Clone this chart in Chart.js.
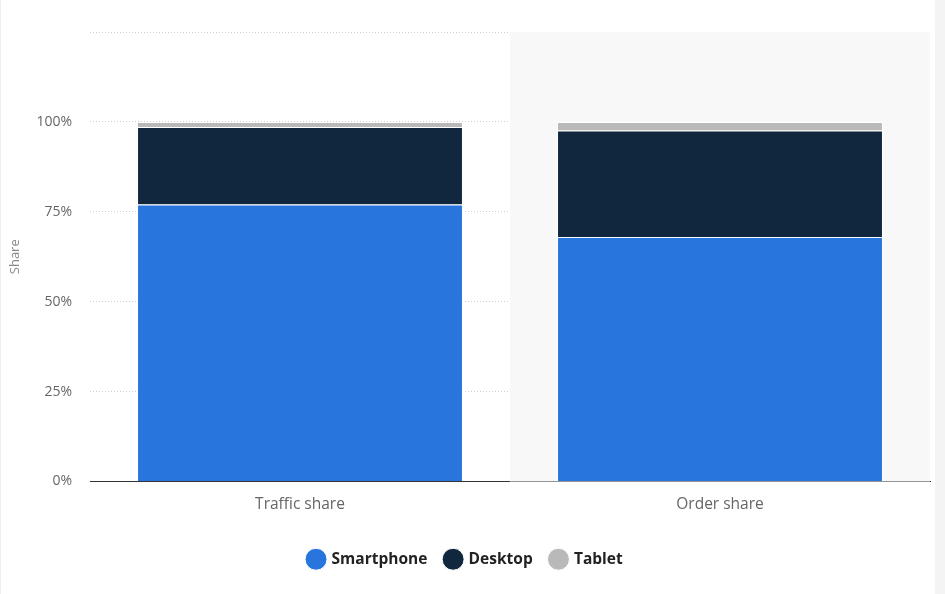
<!DOCTYPE html>
<html>
<head>
<meta charset="utf-8">
<script src="https://cdn.jsdelivr.net/npm/chart.js@4/dist/chart.umd.min.js"></script>
<style>
  html, body { margin: 0; padding: 0; background: #fff; }
  #wrap { position: relative; width: 945px; height: 594px; box-sizing: border-box; border-left: 1px solid #eee; border-right: 10px solid #f4f4f4; }
</style>
</head>
<body>
<div id="wrap"><canvas id="chart"></canvas></div>
<script>
  "use strict";

  const CATEGORIES = ["Traffic share", "Order share"];
  const SMARTPHONE = [77, 68];
  const DESKTOP = [21.6, 29.6];
  const TABLET = [1.4, 2.4];
  const Y_TICKS = [0, 25, 50, 75, 100, 125];

  const FONT = "'Open Sans', 'DejaVu Sans', sans-serif";
  const TICK_COLOR = "#666";
  const GRID_COLOR = "#cfcfcf";

  // light column highlight behind the second category
  const highlight = {
    id: "highlight",
    beforeDatasetsDraw: function (chart) {
      const x = chart.scales.x;
      const area = chart.chartArea;
      const step = x.width / CATEGORIES.length;
      const cx = x.getPixelForValue(1);
      const ctx = chart.ctx;
      ctx.save();
      ctx.fillStyle = "#f8f8f8";
      ctx.fillRect(cx - step / 2, area.top, step, area.bottom - area.top);
      ctx.restore();
    }
  };

  new Chart(document.getElementById("chart"), {
    type: "bar",
    data: {
      labels: CATEGORIES,
      datasets: [
        { label: "Smartphone", data: SMARTPHONE, backgroundColor: "#2876dd" },
        { label: "Desktop", data: DESKTOP, backgroundColor: "#11273d" },
        { label: "Tablet", data: TABLET, backgroundColor: "#b9b9b9" }
      ].map(function (d) {
        d.borderColor = "#ffffff";
        d.borderWidth = 1;
        d.categoryPercentage = 1;
        d.barPercentage = 0.776;
        return d;
      })
    },
    plugins: [highlight],
    options: {
      responsive: true,
      maintainAspectRatio: false,
      animation: false,
      layout: { padding: { top: 32, right: 5, bottom: 17, left: 0 } },
      plugins: {
        tooltip: { enabled: false },
        legend: {
          position: "bottom",
          labels: {
            usePointStyle: true,
            pointStyle: "circle",
            boxWidth: 16,
            boxHeight: 16,
            padding: 18,
            color: "#222",
            font: { family: FONT, size: 15.5, weight: "bold" }
          }
        }
      },
      scales: {
        x: {
          stacked: true,
          grid: { display: false },
          border: { color: "#333", width: 1 },
          ticks: { color: TICK_COLOR, padding: 6, font: { family: FONT, size: 15.5 } },
          afterFit: function (s) { s.height = 52; }
        },
        y: {
          stacked: true,
          min: 0,
          max: 125,
          afterBuildTicks: function (s) {
            s.ticks = Y_TICKS.map(function (v) { return { value: v }; });
          },
          ticks: {
            color: TICK_COLOR,
            padding: 18,
            font: { family: FONT, size: 14 },
            callback: function (v) { return v === 125 ? "" : v + "%"; }
          },
          grid: { color: GRID_COLOR, drawTicks: false },
          border: { display: false, dash: [1, 2] },
          title: {
            display: true,
            text: "Share",
            color: "#888",
            font: { family: FONT, size: 13 },
            padding: { top: 6, bottom: 14 }
          },
          afterFit: function (s) { s.width = 89; }
        }
      }
    }
  });
</script>
</body>
</html>
